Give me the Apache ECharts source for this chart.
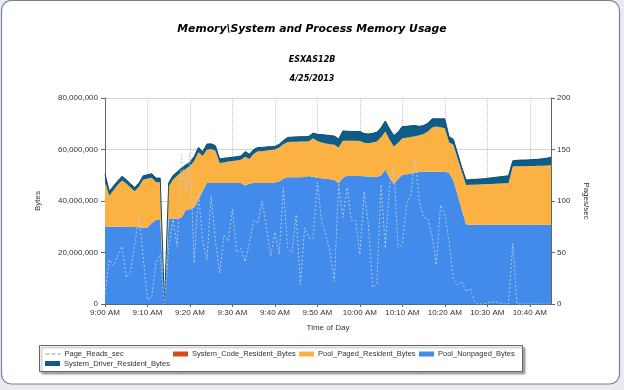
<!DOCTYPE html>
<html>
<head>
<meta charset="utf-8">
<script src="https://cdn.jsdelivr.net/npm/echarts@6/dist/echarts.min.js"></script>
<style>
html,body{margin:0;padding:0;background:#e9ebee;}
#chart{width:624px;height:390px;}
</style>
</head>
<body>
<div id="chart"></div>
<script>
// Time of day categories (one sample per minute)
const times = [
"9:00 AM","9:01 AM","9:02 AM","9:03 AM","9:04 AM","9:05 AM","9:06 AM","9:07 AM","9:08 AM","9:09 AM",
"9:10 AM","9:11 AM","9:12 AM","9:13 AM","9:14 AM","9:15 AM","9:16 AM","9:17 AM","9:18 AM","9:19 AM",
"9:20 AM","9:21 AM","9:22 AM","9:23 AM","9:24 AM","9:25 AM","9:26 AM","9:27 AM","9:28 AM","9:29 AM",
"9:30 AM","9:31 AM","9:32 AM","9:33 AM","9:34 AM","9:35 AM","9:36 AM","9:37 AM","9:38 AM","9:39 AM",
"9:40 AM","9:41 AM","9:42 AM","9:43 AM","9:44 AM","9:45 AM","9:46 AM","9:47 AM","9:48 AM","9:49 AM",
"9:50 AM","9:51 AM","9:52 AM","9:53 AM","9:54 AM","9:55 AM","9:56 AM","9:57 AM","9:58 AM","9:59 AM",
"10:00 AM","10:01 AM","10:02 AM","10:03 AM","10:04 AM","10:05 AM","10:06 AM","10:07 AM","10:08 AM","10:09 AM",
"10:10 AM","10:11 AM","10:12 AM","10:13 AM","10:14 AM","10:15 AM","10:16 AM","10:17 AM","10:18 AM","10:19 AM",
"10:20 AM","10:21 AM","10:22 AM","10:23 AM","10:24 AM","10:25 AM","10:26 AM","10:27 AM","10:28 AM","10:29 AM",
"10:30 AM","10:31 AM","10:32 AM","10:33 AM","10:34 AM","10:35 AM","10:36 AM","10:37 AM","10:38 AM","10:39 AM",
"10:40 AM","10:41 AM","10:42 AM","10:43 AM","10:44 AM","10:45 AM"];

// Bytes, in millions
const poolNonpaged = [
30.1,30.1,30.0,30.0,30.0,30.0,29.9,29.9,29.8,29.6,
29.7,31.5,32.6,32.6,0,33.0,33.1,33.2,33.5,36.5,
36.8,37.5,40.5,44.0,47.0,47.0,47.0,47.0,47.0,47.0,
47.0,47.0,47.0,46.0,46.8,47.0,47.0,47.0,47.0,47.0,
47.2,47.6,48.6,49.2,49.2,49.2,49.2,49.3,49.7,49.3,
49.0,48.8,48.6,48.4,48.2,46.9,49.0,49.8,49.7,49.7,
49.7,49.6,49.5,49.5,49.3,50.0,52.1,49.0,46.6,48.5,
50.2,50.4,50.6,51.0,51.3,51.4,51.4,51.4,51.4,51.4,
51.4,51.0,48.0,42.4,36.6,31.0,30.8,30.8,30.8,30.8,
30.8,30.8,30.8,30.8,30.8,30.8,30.8,30.8,30.8,30.8,
30.8,30.8,30.8,30.8,30.8,30.8];

const poolPaged = [
17.4,11.9,14.2,16.3,18.0,16.8,15.3,13.9,15.7,18.7,
19.0,17.5,14.7,14.7,0,12.5,15.2,16.6,17.8,16.0,
16.7,18.0,18.4,13.5,12.9,13.2,12.5,7.8,8.0,8.3,
8.5,8.7,9.0,11.2,9.5,11.3,12.3,12.3,12.6,12.8,
12.8,13.2,13.4,13.7,13.8,13.8,13.9,13.8,13.5,15.1,
14.3,13.9,13.7,13.6,13.6,13.9,14.4,13.6,13.7,13.7,
13.6,13.0,12.9,13.2,13.8,14.8,14.9,14.8,14.6,14.1,
14.2,14.2,14.3,14.1,14.2,14.6,15.6,17.1,17.5,17.2,
16.9,11.8,13.8,14.2,14.9,15.2,15.5,15.5,15.6,15.7,
15.8,15.8,15.9,16.0,16.1,16.1,22.6,22.7,22.7,22.7,
22.8,22.8,22.9,22.9,23.0,23.1];

const systemCode = [
0,0,0,0,0,0,0,0,0,0, 0,0,0,0,0,0,0,0,0,0,
0,0,0,0,0,0,0,0,0,0, 0,0,0,0,0,0,0,0,0,0,
0,0,0,0,0,0,0,0,0,0, 0,0,0,0,0,0,0,0,0,0,
0,0,0,0,0,0,0,0,0,0, 0,0,0,0,0,0,0,0,0,0,
0,0,0,0,0,0,0,0,0,0, 0,0,0,0,0,0,0,0,0,0,
0,0,0,0,0,0];

const systemDriver = [
3.0,1.8,1.6,1.5,1.6,1.5,1.5,1.4,1.5,1.5,
1.5,1.6,1.6,1.6,0,1.5,1.6,1.5,1.5,1.5,
1.6,1.8,1.9,1.7,2.2,2.0,2.0,1.5,1.6,1.5,
1.5,1.5,1.5,2.0,1.9,1.7,1.5,1.5,1.4,1.3,
1.2,1.2,1.5,1.8,1.8,1.9,1.9,1.9,1.9,2.0,
2.6,3.1,3.3,3.4,3.4,3.3,3.8,3.7,3.6,3.6,
3.7,3.6,3.6,3.6,3.6,3.7,4.1,4.2,4.2,4.2,
4.5,4.4,4.3,4.2,3.5,3.3,3.2,3.4,3.0,3.3,
3.6,2.2,2.2,1.9,1.5,2.0,2.0,2.1,2.1,2.1,
2.2,2.4,2.5,2.6,2.7,2.9,2.2,2.3,2.4,2.4,
2.4,2.5,2.5,2.7,2.8,3.1];

// Pages/sec (right axis)
const pageReads = [
10,43,37,47,56,26,31,58,86,45,
4,7,40,48,0,55,82,56,145,108,
147,40,108,62,43,105,62,30,67,61,
92,50,54,41,60,81,78,100,74,46,
70,48,113,54,50,87,19,74,64,64,
118,80,67,51,22,117,84,113,81,81,
48,109,78,16,20,116,54,116,134,54,
58,96,106,142,100,84,83,66,38,96,
87,60,25,18,22,12,15,2,0,0,
1,2,2,1,0,0,59,0,0,0,
0,0,0,0,0,0];

const titleText = "Memory\\System and Process Memory Usage";
const subTitle1 = "ESXAS12B";
const subTitle2 = "4/25/2013";

const sans = "'Liberation Sans',Arial,sans-serif";
const txt = {fontFamily: sans, fontSize: 8, color: '#333'};

const C_NONPAGED = '#428bea';
const C_PAGED = '#fcb242';
const C_CODE = '#de4814';
const C_DRIVER = '#0f5c87';

function legendAt(name, left, top, extra) {
  return Object.assign({
    data: [name], left: left, top: top, itemWidth: 15, itemHeight: 5, itemGap: 4,
    icon: 'rect', padding: 0, textStyle: {fontFamily: sans, fontSize: 7.5, color: '#333', padding: [0, 0, 0, -1]}, selectedMode: false
  }, extra || {});
}

const chart = echarts.init(document.getElementById('chart'), null, {renderer: 'canvas'});
chart.setOption({
  animation: false,
  backgroundColor: '#e9ebee',
  graphic: [
    {type: 'rect', z: -10, shape: {x: 1.5, y: 0.5, width: 618, height: 383.5, r: 10},
     style: {fill: '#ffffff', stroke: '#74839a', lineWidth: 1.2}},
    {type: 'rect', z: -5, shape: {x: 39.5, y: 345.5, width: 483, height: 26},
     style: {fill: '#ffffff', stroke: '#666', lineWidth: 1, shadowColor: 'rgba(0,0,0,0.35)', shadowOffsetX: 2, shadowOffsetY: 2, shadowBlur: 2}}
  ],
  title: [
    {text: titleText, left: 'center', top: 19,
     textStyle: {fontFamily: 'DejaVu Sans', fontWeight: 'bold', fontStyle: 'italic', fontSize: 10.8, color: '#000'}},
    {text: subTitle1, left: 'center', top: 51,
     textStyle: {fontFamily: 'DejaVu Sans', fontWeight: 'bold', fontStyle: 'italic', fontSize: 8, color: '#000'}},
    {text: subTitle2, left: 'center', top: 70,
     textStyle: {fontFamily: 'DejaVu Sans', fontWeight: 'bold', fontStyle: 'italic', fontSize: 8, color: '#000'}}
  ],
  legend: [
    legendAt('Page_Reads_sec', 45, 350, {icon: null, data: [{name: 'Page_Reads_sec', lineStyle: {color: '#999', type: 'dashed', width: 1}, itemStyle: {opacity: 0}}]}),
    legendAt('System_Code_Resident_Bytes', 173, 350),
    legendAt('Pool_Paged_Resident_Bytes', 299, 350),
    legendAt('Pool_Nonpaged_Bytes', 419, 350),
    legendAt('System_Driver_Resident_Bytes', 45, 359.5)
  ],
  grid: {left: 105, right: 73, top: 98, bottom: 86},
  xAxis: {
    type: 'category', data: times, boundaryGap: false,
    name: 'Time of Day', nameLocation: 'middle', nameGap: 20, nameTextStyle: txt,
    axisLine: {lineStyle: {color: '#666'}},
    axisTick: {show: true, interval: 9, length: 3, lineStyle: {color: '#666'}},
    axisLabel: Object.assign({interval: 9, margin: 5}, txt),
    splitLine: {show: true, interval: 9, lineStyle: {color: '#c4c8ce', type: 'dotted'}}
  },
  yAxis: [
    {type: 'value', min: 0, max: 80, interval: 20,
     name: 'Bytes', nameLocation: 'middle', nameGap: 63, nameTextStyle: txt,
     axisLine: {show: true, lineStyle: {color: '#666'}},
     axisTick: {show: true, length: 4, lineStyle: {color: '#666'}},
     axisLabel: Object.assign({margin: 7, formatter: function (v) { return (v * 1000000).toLocaleString('en-US'); }}, txt),
     splitLine: {show: true, lineStyle: {color: '#d4d4d4'}}},
    {type: 'value', min: 0, max: 200, interval: 50, position: 'right',
     name: 'Pages/sec', nameLocation: 'middle', nameGap: 31, nameRotate: -90, nameTextStyle: txt,
     axisLine: {show: true, lineStyle: {color: '#666'}},
     axisTick: {show: true, length: 4, lineStyle: {color: '#666'}},
     axisLabel: Object.assign({margin: 6}, txt),
     splitLine: {show: false}}
  ],
  series: [
    {name: 'Pool_Nonpaged_Bytes', type: 'line', stack: 'mem', data: poolNonpaged, symbol: 'none',
     color: C_NONPAGED, lineStyle: {width: 0}, areaStyle: {color: C_NONPAGED, opacity: 1}},
    {name: 'Pool_Paged_Resident_Bytes', type: 'line', stack: 'mem', data: poolPaged, symbol: 'none',
     color: C_PAGED, lineStyle: {width: 0}, areaStyle: {color: C_PAGED, opacity: 1}},
    {name: 'System_Code_Resident_Bytes', type: 'line', stack: 'mem', data: systemCode, symbol: 'none',
     color: C_CODE, lineStyle: {width: 0}, areaStyle: {color: C_CODE, opacity: 1}},
    {name: 'System_Driver_Resident_Bytes', type: 'line', stack: 'mem', data: systemDriver, symbol: 'none',
     color: C_DRIVER, lineStyle: {width: 1, color: '#0b4e74'}, areaStyle: {color: C_DRIVER, opacity: 1}},
    {name: 'Page_Reads_sec', type: 'line', yAxisIndex: 1, data: pageReads, symbol: 'none',
     color: '#b9cdea', lineStyle: {width: 0.9, type: [2, 2], color: '#b9cdea'}, z: 5}
  ]
});
</script>
</body>
</html>
